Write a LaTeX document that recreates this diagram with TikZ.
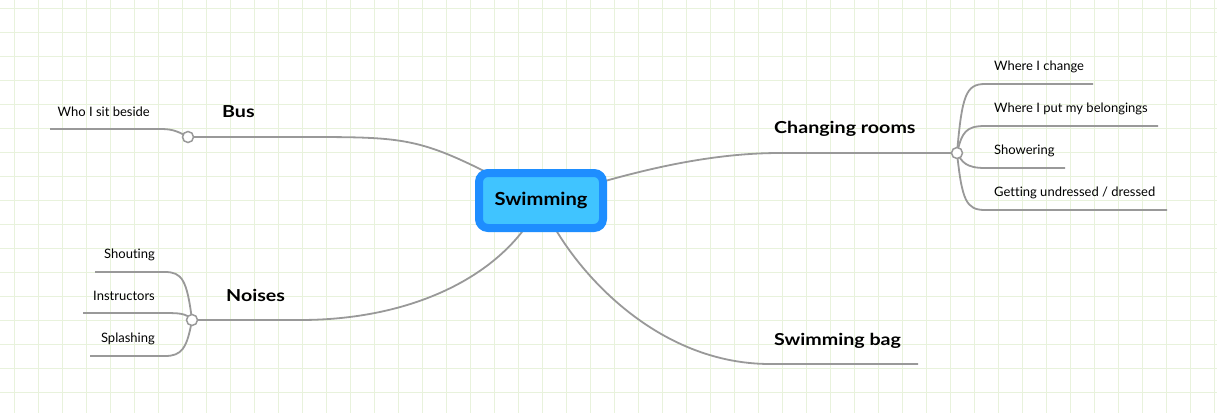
\documentclass[tikz,border=0pt]{standalone}
\usepackage{fontspec}
\setmainfont[Ligatures={NoCommon}]{Lato}
\newfontfamily\topicfont[FakeStretch=1.19,Ligatures={NoCommon}]{Lato}
\newfontfamily\centralfont[FakeStretch=1.12,Ligatures={NoCommon}]{Lato}
\pgfdeclarelayer{gridlayer}
\pgfdeclarelayer{edgelayer}
\pgfsetlayers{gridlayer,edgelayer,main}
\definecolor{gridc}{HTML}{E8F2DC}
\definecolor{linec}{HTML}{999999}
\definecolor{mainborder}{HTML}{1E8EFF}
\definecolor{mainfill}{HTML}{40C4FF}
\begin{document}
\begin{tikzpicture}[x=1pt,y=-1pt,
  branch/.style={draw=linec,line width=1.8pt},
  knob/.style={circle,draw=linec,fill=white,line width=1.5pt,minimum size=11pt,inner sep=0pt},
  sub/.style={font=\fontsize{13}{15}\selectfont,inner sep=0pt},
  topic/.style={font=\topicfont\fontsize{16.5}{19}\selectfont\bfseries,inner sep=0pt},
  central/.style={draw=mainborder,fill=mainfill,line width=8pt,rounded corners=9pt,
    minimum width=124pt,minimum height=55pt,inner sep=0pt,
    font=\centralfont\fontsize{18}{20}\selectfont\bfseries}]
\useasboundingbox (0,0) rectangle (1217,413);
\begin{pgfonlayer}{gridlayer}
  \fill[white] (0,0) rectangle (1217,413);
  \foreach \x in {14,38,...,1214} \draw[gridc,line width=1pt] (\x,0) -- (\x,413);
  \foreach \y in {8,32,...,410} \draw[gridc,line width=1pt] (0,\y) -- (1217,\y);
\end{pgfonlayer}

\node[central] (main) at (541,200.5) {Swimming};

\node[knob] (kbus) at (188,137) {};
\node[knob] (kch) at (957,153) {};
\node[knob] (kno) at (192,320) {};

\coordinate (ebag) at (918,364);
\coordinate (esb) at (50,129);
\coordinate (en1) at (95,272);
\coordinate (en2) at (83,313);
\coordinate (en3) at (90,356);
\coordinate (ec1) at (1093,84);
\coordinate (ec2) at (1158,126);
\coordinate (ec3) at (1065,168);
\coordinate (ec4) at (1167,210);

\node[topic,anchor=base west] (tbus) at (222,117) {Bus};
\node[topic,anchor=base west] (tch) at (774,133) {Changing rooms};
\node[topic,anchor=base west] (tno) at (226,301) {Noises};
\node[topic,anchor=base west] (tbag) at (774,345) {Swimming bag};

\node[sub,anchor=base east] (s1) at (150,116) {Who I sit beside};
\node[sub,anchor=base east] (n1) at (155,258) {Shouting};
\node[sub,anchor=base east] (n2) at (155,300) {Instructors};
\node[sub,anchor=base east] (n3) at (155,342) {Splashing};
\node[sub,anchor=base west] (c1) at (994,70) {Where I change};
\node[sub,anchor=base west] (c2) at (994,112) {Where I put my belongings};
\node[sub,anchor=base west] (c3) at (994,154) {Showering};
\node[sub,anchor=base west] (c4) at (994,196) {Getting undressed / dressed};

\begin{pgfonlayer}{edgelayer}
  \draw[branch] (main.center) .. controls (420,137) .. (300,137) -- (kbus.center);
  \draw[branch] (main.center) .. controls (620,175) and (700,153) .. (780,153) -- (kch.center);
  \draw[branch] (main.center) .. controls (510,270) and (420,320) .. (300,320) -- (kno.center);
  \draw[branch] (main.center) .. controls (565,260) and (650,364) .. (770,364) -- (ebag);

  \draw[branch] (kbus.center) .. controls (176,130) and (170,129) .. (160,129) -- (esb);

  \draw[branch] (kno.center) .. controls (187,280) and (182,272) .. (165,272) -- (en1);
  \draw[branch] (kno.center) .. controls (186,313) and (180,313) .. (160,313) -- (en2);
  \draw[branch] (kno.center) .. controls (187,348) and (182,356) .. (165,356) -- (en3);

  \draw[branch] (kch.center) .. controls (962,95) and (966,84) .. (985,84) -- (ec1);
  \draw[branch] (kch.center) .. controls (962,132) and (966,126) .. (985,126) -- (ec2);
  \draw[branch] (kch.center) .. controls (962,162) and (966,168) .. (985,168) -- (ec3);
  \draw[branch] (kch.center) .. controls (962,200) and (966,210) .. (985,210) -- (ec4);
\end{pgfonlayer}
\end{tikzpicture}
\end{document}
